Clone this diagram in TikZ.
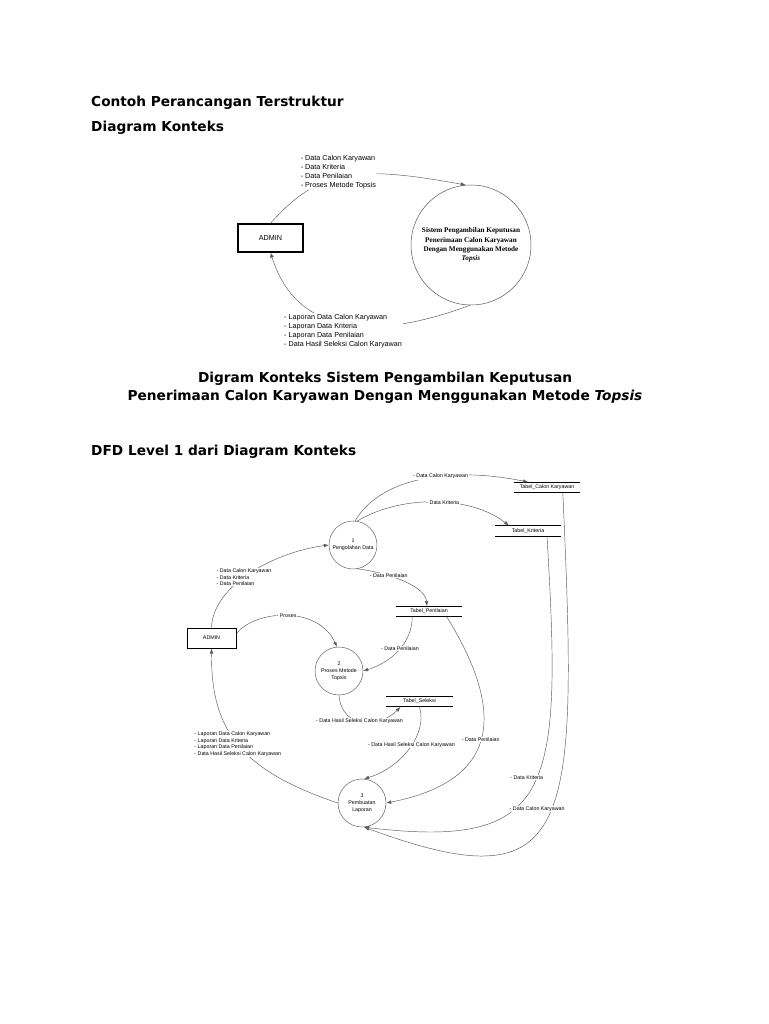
\documentclass[tikz,border=0pt]{standalone}
\usepackage{fontspec}
\setmainfont{Liberation Sans}
\newfontfamily\headfont{DejaVu Sans}
\newfontfamily\serfont{Liberation Serif}
\usepackage{tikz}
\usetikzlibrary{arrows.meta,positioning}

\tikzset{
  heading/.style={anchor=base west, inner sep=0pt, font=\headfont\bfseries\fontsize{13.7}{16}\selectfont},
  flow/.style={draw=black!65, line width=0.45pt, -{Latex[length=5pt,width=3.6pt]}},
  toplbl/.style={fill=white, inner sep=1pt, align=left, font=\fontsize{7.2}{9}\selectfont},
  lbl/.style={fill=white, inner sep=0.6pt, align=left, font=\fontsize{5.3}{6.5}\selectfont},
  bigentity/.style={draw, line width=1.2pt, minimum width=65pt, minimum height=28pt, font=\fontsize{7.2}{9}\selectfont},
  sysproc/.style={circle, draw=black!65, line width=0.5pt, minimum size=120pt, inner sep=0pt, align=center, font=\serfont\bfseries\fontsize{7.2}{9.3}\selectfont},
  entity/.style={draw, line width=1pt, minimum width=49pt, minimum height=20pt, font=\fontsize{5.3}{7}\selectfont},
  proc/.style={circle, draw=black!65, line width=0.45pt, minimum size=48pt, inner sep=0pt, align=center, font=\fontsize{5.3}{7.3}\selectfont},
  store/.style={minimum width=66pt, minimum height=10.5pt, inner sep=0pt, font=\fontsize{5.3}{7}\selectfont},
  storeline/.style={line width=1pt}
}

\begin{document}
\begin{tikzpicture}[x=1pt,y=-1pt]
\fill[white] (0,0) rectangle (768,1024);
\useasboundingbox (0,0) rectangle (768,1024);

\node[heading] (h1) at (91,107) {Contoh Perancangan Terstruktur};
\node[heading] (h2) at (91,132) {Diagram Konteks};
\node[heading, anchor=base] (t1) at (385,382) {Digram Konteks Sistem Pengambilan Keputusan};
\node[heading, anchor=base] (t2) at (385,400) {Penerimaan Calon Karyawan Dengan Menggunakan Metode \textit{Topsis}};
\node[heading] (h3) at (91,455) {DFD Level 1 dari Diagram Konteks};

% diagram konteks
\node[bigentity] (admin) at (270.5,238) {ADMIN};
\node[sysproc] (sys) at (471,245) {Sistem Pengambilan Keputusan\\Penerimaan Calon Karyawan\\Dengan Menggunakan Metode\\\textit{Topsis}};

\draw[flow] (admin.north) .. controls (320,167) and (360,166) .. node[toplbl, pos=0.45, yshift=6pt]{- Data Calon Karyawan\\- Data Kriteria\\- Data Penilaian\\- Proses Metode Topsis} (sys.95);
\draw[flow] (sys.-91) .. controls (372,342) and (296,334) .. node[toplbl, yshift=-8pt]{- Laporan Data Calon Karyawan\\- Laporan Data Kriteria\\- Laporan Data Penilaian\\- Data Hasil Seleksi Calon Karyawan} (admin.south);

% dfd level 1
\node[entity] (adm) at (211.5,638) {ADMIN};
\node[proc] (p1) at (353,545) {1\\Pengolahan Data};
\node[proc] (p2) at (339,671) {2\\Proses Metode\\Topsis};
\node[proc] (p3) at (362,803) {3\\Pembuatan\\Laporan};

\node[store] (tcalon) at (547,487.5) {Tabel\_Calon Karyawan};
\node[store] (tkrit) at (528,531) {Tabel\_Kriteria};
\node[store] (tnilai) at (429,611.5) {Tabel\_Penilaian};
\node[store] (tseleksi) at (419.5,701.5) {Tabel\_Seleksi};
\foreach \s in {tcalon,tkrit,tnilai,tseleksi}{
  \draw[storeline] (\s.north west) -- (\s.north east);
  \draw[storeline] (\s.south west) -- (\s.south east);
}

\draw[flow] (p1.85) .. controls (380,478) and (450,466) .. node[lbl, pos=0.6]{- Data Calon Karyawan} (tcalon.164);
\draw[flow] (p1.80) .. controls (400,495) and (470,495) .. node[lbl, pos=0.55]{- Data Kriteria} (tkrit.164);
\draw[flow] (adm.north) .. controls (213,585) and (275,552) .. node[lbl, pos=0.45]{- Data Calon Karyawan\\- Data Kriteria\\- Data Penilaian} (p1.west);
\draw[flow] (p1.-80) .. controls (385,572) and (425,585) .. node[lbl, pos=0.35]{- Data Penilaian} (tnilai.110);
\draw[flow] (adm.10) .. controls (255,610) and (318,605) .. node[lbl]{- Proses} (p2.95);
\draw[flow] (tnilai.198) .. controls (412,645) and (389,663) .. node[lbl, pos=0.45]{- Data Penilaian} (p2.east);
\draw[flow] (p2.south) .. controls (342,730) and (380,728) .. node[lbl, pos=0.45]{- Data Hasil Seleksi Calon Karyawan} (tseleksi.196);
\draw[flow] (tseleksi.south) .. controls (428,735) and (400,768) .. node[lbl, pos=0.45]{- Data Hasil Seleksi Calon Karyawan} (p3.85);
\draw[flow] (tnilai.-17) .. controls (503,708) and (504,780) .. node[lbl, pos=0.52]{- Data Penilaian} (p3.east);
\draw[flow] (tkrit.-16) .. controls (562,790) and (555,850) .. node[lbl, pos=0.47, xshift=-10pt]{- Data Kriteria} (p3.-85);
\draw[flow] (tcalon.-19) .. controls (578,830) and (575,905) .. node[lbl, pos=0.48, xshift=-14pt]{- Data Calon Karyawan} (p3.-85);
\draw[flow] (p3.west) .. controls (240,770) and (211,730) .. node[lbl]{- Laporan Data Calon Karyawan\\- Laporan Data Kriteria\\- Laporan Data Penilaian\\- Data Hasil Seleksi Calon Karyawan} (adm.south);
\end{tikzpicture}
\end{document}
